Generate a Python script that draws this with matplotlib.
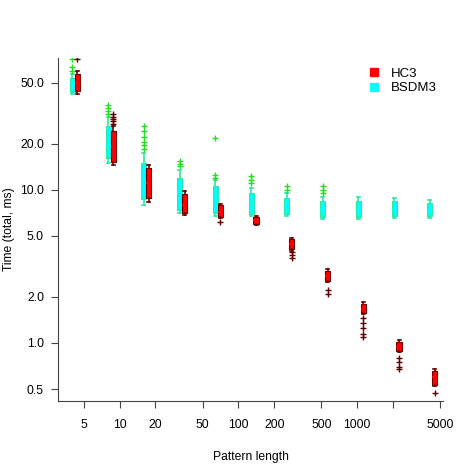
import matplotlib
matplotlib.use('Agg')
import matplotlib.pyplot as plt

plt.rcParams['font.family'] = ['Liberation Sans', 'DejaVu Sans']

# pattern lengths
lengths = [4, 8, 16, 32, 64, 128, 256, 512, 1024, 2048, 4096]

# box stats per length: whisker low, Q1, median, Q3, whisker high
bsdm3_stats = [
    (42.0, 43.5, 48.0, 54.0, 57.0),
    (15.0, 16.0, 19.5, 26.0, 30.0),
    (8.0, 8.7, 11.5, 15.0, 17.5),
    (7.0, 7.4, 9.5, 12.0, 13.5),
    (6.7, 7.0, 8.5, 10.5, 11.5),
    (6.7, 6.9, 8.0, 9.5, 10.3),
    (6.7, 6.9, 7.7, 8.8, 9.5),
    (6.4, 6.6, 7.5, 8.5, 9.0),
    (6.4, 6.6, 7.4, 8.5, 9.0),
    (6.5, 6.7, 7.4, 8.4, 8.8),
    (6.5, 6.7, 7.3, 8.2, 8.6),
]
bsdm3_out = [
    [60.0, 63.0, 71.0],
    [31.0, 32.5, 34.0, 35.5],
    [18.5, 19.5, 20.5, 22.0, 24.0, 26.0],
    [14.2, 14.8, 15.4],
    [12.0, 12.5, 21.7],
    [11.0, 11.6, 12.3],
    [10.0, 10.6],
    [9.5, 10.0, 10.5],
    [],
    [],
    [],
]

hc3_stats = [
    (42.0, 44.0, 50.0, 57.0, 60.0),
    (14.5, 15.2, 19.0, 24.0, 26.0),
    (8.3, 8.8, 11.0, 13.8, 14.5),
    (6.8, 7.0, 8.0, 9.4, 9.8),
    (6.5, 6.6, 7.2, 7.9, 8.1),
    (5.85, 5.95, 6.3, 6.6, 6.7),
    (4.0, 4.1, 4.45, 4.75, 4.85),
    (2.5, 2.55, 2.75, 2.95, 3.05),
    (1.55, 1.58, 1.67, 1.8, 1.85),
    (0.87, 0.88, 0.94, 1.02, 1.05),
    (0.52, 0.53, 0.6, 0.66, 0.68),
]
hc3_out = [
    [71.0],
    [27.0, 28.0, 29.0, 30.0, 31.0],
    [],
    [],
    [6.2],
    [],
    [3.9, 3.75, 3.6],
    [2.2, 2.1],
    [1.45, 1.35, 1.25, 1.15, 1.1],
    [0.8, 0.75, 0.7, 0.68],
    [0.47],
]

xticks = [5, 10, 20, 50, 100, 200, 500, 1000, 2000, 5000]
xticklabels = ['5', '10', '20', '50', '100', '200', '500', '1000', '', '5000']
yticks = [0.5, 1, 2, 5, 10, 20, 50]
yticklabels = ['0.5', '1.0', '2.0', '5.0', '10.0', '20.0', '50.0']


def make_stats(stats, outs):
    res = []
    for (lo, q1, med, q3, hi), fl in zip(stats, outs):
        res.append({'whislo': lo, 'q1': q1, 'med': med, 'q3': q3,
                    'whishi': hi, 'fliers': fl})
    return res


fig = plt.figure(figsize=(4.74, 4.74), dpi=100)
ax = fig.add_axes([0.122, 0.154, 0.813, 0.724])
ax.set_xscale('log')
ax.set_yscale('log')

def draw(stats, positions, face, edge, flier):
    ax.bxp(stats, positions=positions,
           widths=[p * 0.1 for p in positions],
           patch_artist=True, manage_ticks=False,
           boxprops=dict(facecolor=face, edgecolor=edge, linewidth=0.8),
           medianprops=dict(color=face, linewidth=1.5),
           whiskerprops=dict(color=edge, linewidth=1.2),
           capprops=dict(color=edge, linewidth=1.2),
           flierprops=dict(marker='+', markeredgecolor=flier,
                           markersize=5, linestyle='none'),
           capwidths=[p * 0.06 for p in positions])

draw(make_stats(bsdm3_stats, bsdm3_out), lengths, 'cyan', '#30e8a0', '#20e020')
draw(make_stats(hc3_stats, hc3_out), [n * 1.1 for n in lengths],
     'red', '#700000', '#600000')

ax.set_xlim(3.01, 5300)
ax.set_ylim(0.418, 72.6)

ax.set_xticks(xticks)
ax.set_xticklabels(xticklabels)
ax.xaxis.set_minor_locator(matplotlib.ticker.NullLocator())
ax.set_yticks(yticks)
ax.set_yticklabels(yticklabels)
ax.yaxis.set_minor_locator(matplotlib.ticker.NullLocator())
ax.tick_params(labelsize=8.7, length=5, width=0.8, color='#444444')
ax.tick_params(axis='x', pad=8)
ax.tick_params(axis='y', pad=5)

ax.spines['top'].set_visible(False)
ax.spines['right'].set_visible(False)
for s in ['left', 'bottom']:
    ax.spines[s].set_color('#444444')
    ax.spines[s].set_linewidth(0.8)

ax.set_xlabel('Pattern length', fontsize=8.7, labelpad=14)
ax.set_ylabel('Time (total, ms)', fontsize=8.7)
ax.yaxis.set_label_coords(-0.112, 0.5)

h1 = plt.Line2D([], [], marker='s', color='red', linestyle='none', markersize=6)
h2 = plt.Line2D([], [], marker='s', color='cyan', linestyle='none', markersize=6)
fig.legend([h1, h2], ['HC3', 'BSDM3'], loc='upper left', frameon=False,
           fontsize=9.5, handlelength=1.0, handletextpad=0.8,
           labelspacing=0.15, borderpad=0, borderaxespad=0,
           bbox_to_anchor=(0.775, 0.857))

fig.savefig('out.png', dpi=100)
